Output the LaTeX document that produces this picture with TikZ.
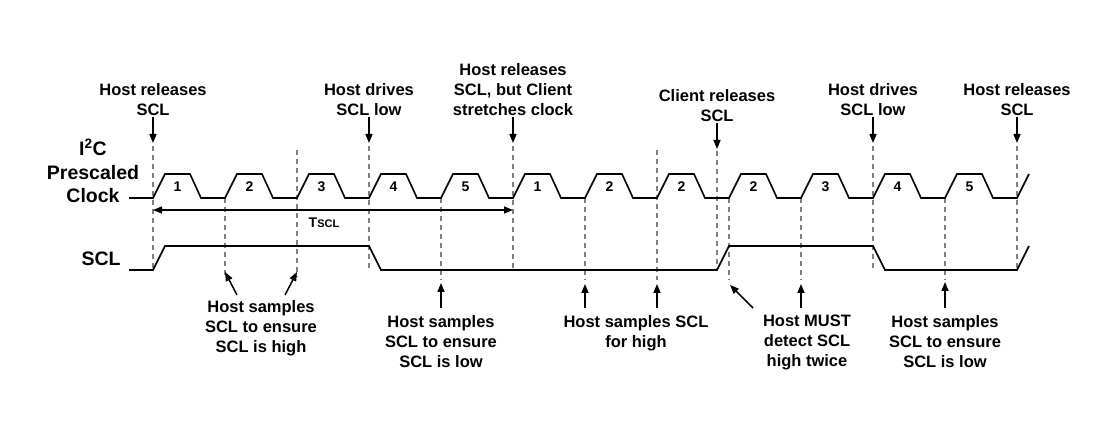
\documentclass[tikz,border=0pt]{standalone}
\usepackage{fontspec}
\setmainfont{Liberation Sans}
\usetikzlibrary{arrows.meta}

\tikzset{
  wave/.style={line width=1.6pt},
  guide/.style={gray, line width=1.5pt, dash pattern=on 5pt off 4pt},
  arr/.style={->, line width=1.5pt},
  note/.style={font=\bfseries\fontsize{16.5}{20}\selectfont, align=center, inner sep=1pt},
  sig/.style={font=\bfseries\fontsize{19.5}{23.5}\selectfont, align=center, inner sep=0pt},
  num/.style={font=\bfseries\fontsize{14}{14}\selectfont, inner sep=0pt},
  >={Triangle[length=9pt,width=7pt]}
}

\begin{document}
\begin{tikzpicture}[x=1pt,y=-1pt]
\useasboundingbox (0,0) rectangle (1110,435);

% signal names
\node[sig] (clk) at (93,171) {I\textsuperscript{2}C\\Prescaled\\Clock};
\node[sig] (scl) at (101,259) {SCL};

% guide lines
\foreach \x/\a/\b in {153/146/270,225/198/277,297/150/277,369/146/270,441/198/280,
  513/146/270,585/198/280,657/150/280,717/151/270,729/198/280,801/198/280,
  873/146/270,945/198/280,1017/146/270}
  \draw[guide] (\x,\a) -- (\x,\b);

% clock and SCL
\draw[wave] (129,198) -- (153,198)
  \foreach \i in {1,...,12} { -- ++(12,-24) -- ++(25,0) -- ++(11,24) -- ++(24,0) }
  -- ++(12,-24);
\foreach \n [count=\k from 0] in {1,2,3,4,5,1,2,2,2,3,4,5}
  \node[num] (n\k) at (177.5+72*\k,187) {\n};
\draw[wave] (129,270) -- (153,270) -- (165,246) -- (369,246) -- (381,270)
  -- (717,270) -- (729,246) -- (873,246) -- (885,270) -- (1017,270) -- (1029,246);

% period
\coordinate (ta) at (153,210);
\coordinate (tb) at (513,210);
\draw[<->, line width=1.5pt] (ta) -- (tb);
\node[inner sep=0pt, font=\bfseries] (tscl) at (324,223)
  {{\fontsize{14}{14}\selectfont T}{\fontsize{11}{11}\selectfont SCL}};

% notes above
\node[note, anchor=south] (rel1) at (153,117) {Host releases\\SCL};
\node[note, anchor=south] (drv1) at (369,117) {Host drives\\SCL low};
\node[note, anchor=south] (str) at (513,117) {Host releases\\SCL, but Client\\stretches clock};
\node[note, anchor=south] (crel) at (717,123) {Client releases\\SCL};
\node[note, anchor=south] (drv2) at (873,117) {Host drives\\SCL low};
\node[note, anchor=south] (rel2) at (1017,117) {Host releases\\SCL};
\coordinate (rel1t) at (153,143);
\coordinate (drv1t) at (369,143);
\coordinate (strt) at (513,143);
\coordinate (crelt) at (717,149);
\coordinate (drv2t) at (873,143);
\coordinate (rel2t) at (1017,143);
\draw[arr] (rel1) -- (rel1t);
\draw[arr] (drv1) -- (drv1t);
\draw[arr] (str) -- (strt);
\draw[arr] (crel) -- (crelt);
\draw[arr] (drv2) -- (drv2t);
\draw[arr] (rel2) -- (rel2t);

% notes below
\node[note, anchor=north] (hs1) at (261,299) {Host samples\\SCL to ensure\\SCL is high};
\node[note, anchor=north] (hs2) at (441,314) {Host samples\\SCL to ensure\\SCL is low};
\node[note, anchor=north] (hs3) at (636,314) {Host samples SCL\\for high};
\node[note, anchor=north] (hm) at (807,314) {Host MUST\\detect SCL\\high twice};
\node[note, anchor=north] (hs5) at (945,314) {Host samples\\SCL to ensure\\SCL is low};
\coordinate (hs1a) at (225,272);
\coordinate (hs1b) at (297,272);
\coordinate (hs2a) at (441,283);
\coordinate (hs3a) at (585,284);
\coordinate (hs3b) at (657,284);
\coordinate (hma) at (730,285);
\coordinate (hmb) at (801,284);
\coordinate (hs5a) at (945,282);
\draw[arr] ([shift={(-24,-4)}]hs1.north) -- (hs1a);
\draw[arr] ([shift={(24,-4)}]hs1.north) -- (hs1b);
\draw[arr] ([shift={(0,-6)}]hs2.north) -- (hs2a);
\draw[arr] ([shift={(-51,-6)}]hs3.north) -- (hs3a);
\draw[arr] ([shift={(21,-6)}]hs3.north) -- (hs3b);
\draw[arr] ([shift={(-54,-6)}]hm.north) -- (hma);
\draw[arr] ([shift={(-6,-6)}]hm.north) -- (hmb);
\draw[arr] ([shift={(0,-6)}]hs5.north) -- (hs5a);
\end{tikzpicture}
\end{document}
